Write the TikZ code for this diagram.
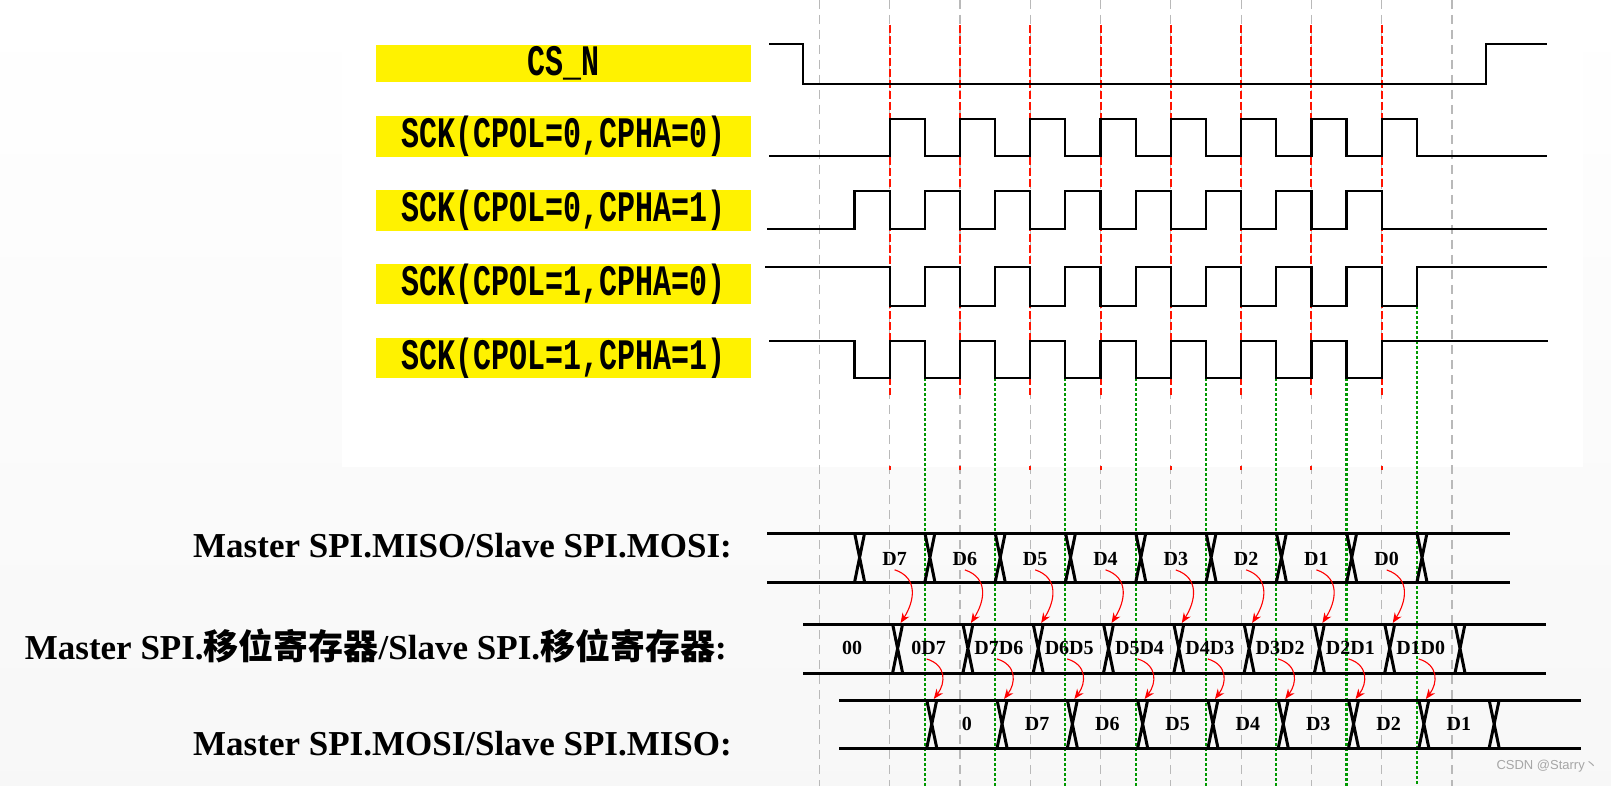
\documentclass[tikz,border=0pt]{standalone}
\usepackage{fontspec}
\usepackage{graphicx}
\setmainfont{Liberation Serif}
\newfontfamily\cjk{Noto Sans CJK SC}
\newfontfamily\monof{Liberation Mono}
\newfontfamily\sansf{Liberation Sans}
\usetikzlibrary{arrows.meta}
\begin{document}
\begin{tikzpicture}[x=1pt,y=-1pt,line join=miter,
  sig/.style={line width=2.2pt,black},
  dat/.style={line width=3pt,black},
  graydash/.style={gray!55,line width=1.2pt,dash pattern=on 9pt off 6pt},
  reddash/.style={red!85!orange,line width=2pt,dash pattern=on 8pt off 3pt},
  greendot/.style={green!60!black,line width=2.2pt,dash pattern=on 2.5pt off 2.5pt},
  ylab/.style={fill=yellow,minimum width=375pt,minimum height=37pt,inner sep=0pt,font=\monof\bfseries\fontsize{30}{30}\selectfont},
  mlab/.style={anchor=east,font=\bfseries\fontsize{35}{35}\selectfont,inner sep=0pt},
  dlab/.style={font=\bfseries\fontsize{20}{20}\selectfont,inner sep=0pt},
  rarr/.style={red,line width=1.1pt,-{Stealth[length=10pt,width=8pt]}}]
\useasboundingbox (0,0) rectangle (1611,786);
\shade[top color=white,bottom color=gray!6] (0,0) rectangle (1611,786);
\fill[white] (342,0) rectangle (1583,467);
\def\h{35.15}
% gray dashed grid
\foreach \k in {0,...,9}{\draw[graydash] ({819.3+70.3*\k},0) -- ({819.3+70.3*\k},786);}
% red dashed
\foreach \k in {1,...,8}{\draw[reddash] ({819.3+70.3*\k},25) -- ({819.3+70.3*\k},395);
  \draw[reddash] ({819.3+70.3*\k},466) -- ({819.3+70.3*\k},470);}
% green dotted
\foreach \k in {1,...,7}{\draw[greendot] ({819.3+70.3*\k+\h},378) -- ({819.3+70.3*\k+\h},786);}
\draw[greendot] ({819.3+70.3*8+\h},306) -- ({819.3+70.3*8+\h},786);
% labels
\node[ylab] (lcs) at (563.5,63.5) {\scalebox{1}[1.45]{CS\_N}};
\node[ylab] (l00) at (563.5,136.5) {\scalebox{1}[1.45]{SCK(CPOL=0,CPHA=0)}};
\node[ylab] (l01) at (563.5,210.5) {\scalebox{1}[1.45]{SCK(CPOL=0,CPHA=1)}};
\node[ylab] (l10) at (563.5,284) {\scalebox{1}[1.45]{SCK(CPOL=1,CPHA=0)}};
\node[ylab] (l11) at (563.5,358) {\scalebox{1}[1.45]{SCK(CPOL=1,CPHA=1)}};
% CS_N
\draw[sig] (769,44) -| (803,84) -- (1486,84) |- (1547,44);
% clocks
\draw[sig] (769,156) foreach \k in {1,...,8}{ -- ({819.3+70.3*\k},156) -- ({819.3+70.3*\k},119) -- ({819.3+70.3*\k+\h},119) -- ({819.3+70.3*\k+\h},156)} -- (1547,156);
\draw[sig] (767,229) foreach \k in {1,...,8}{ -- ({819.3+70.3*\k-\h},229) -- ({819.3+70.3*\k-\h},191) -- ({819.3+70.3*\k},191) -- ({819.3+70.3*\k},229)} -- (1547,229);
\draw[sig] (765,267) foreach \k in {1,...,8}{ -- ({819.3+70.3*\k},267) -- ({819.3+70.3*\k},306) -- ({819.3+70.3*\k+\h},306) -- ({819.3+70.3*\k+\h},267)} -- (1547,267);
\draw[sig] (769,341) foreach \k in {1,...,8}{ -- ({819.3+70.3*\k-\h},341) -- ({819.3+70.3*\k-\h},378) -- ({819.3+70.3*\k},378) -- ({819.3+70.3*\k},341)} -- (1548,341);
% row titles
\node[mlab] (ta) at (732,546) {Master SPI.MISO/Slave SPI.MOSI:};
\node[mlab] (tb) at (727,646) {Master SPI.{\cjk 移位寄存器}/Slave SPI.{\cjk 移位寄存器}:};
\node[mlab] (tc) at (732,744) {Master SPI.MOSI/Slave SPI.MISO:};
% data row lines
\draw[dat] (767,533) -- (1510,533); \draw[dat] (767,582) -- (1510,582);
\draw[dat] (803,624) -- (1546,624); \draw[dat] (803,673) -- (1546,673);
\draw[dat] (839,700) -- (1581,700); \draw[dat] (839,748) -- (1581,748);
\foreach \k in {1,...,9}{
  \pgfmathsetmacro\ca{819.3+70.3*\k-30}
  \pgfmathsetmacro\cb{819.3+70.3*\k+8}
  \pgfmathsetmacro\cc{819.3+70.3*\k+\h+7}
  \draw[dat] (\ca-5,533) -- (\ca+5,582) (\ca+5,533) -- (\ca-5,582);
  \draw[dat] (\cb-5,624) -- (\cb+5,673) (\cb+5,624) -- (\cb-5,673);
  \draw[dat] (\cc-5,700) -- (\cc+5,748) (\cc+5,700) -- (\cc-5,748);
  \coordinate (xb\k) at (\cb+3,623);
  \coordinate (xc\k) at (\cc+2,699);
}
\foreach \k/\t in {1/D7,2/D6,3/D5,4/D4,5/D3,6/D2,7/D1,8/D0}{
  \node[dlab] (la\k) at ({819.3+70.3*\k-30+35},559) {\t};}
\node[dlab] (lb0) at (852,648) {00};
\foreach \k/\t in {1/0D7,2/D7D6,3/D6D5,4/D5D4,5/D4D3,6/D3D2,7/D2D1,8/D1D0}{
  \node[dlab] (lb\k) at ({819.3+70.3*\k+8+31},648) {\t};}
\foreach \k/\t in {1/0,2/D7,3/D6,4/D5,5/D4,6/D3,7/D2,8/D1}{
  \node[dlab] (lc\k) at ({819.3+70.3*\k+\h+7+35},724) {\t};}
% arrows
\foreach \k in {1,...,8}{
  \draw[rarr] ([yshift=-4pt]la\k.south) .. controls +(24,8) and +(14,-22) .. (xb\k);
  \draw[rarr] ([xshift=-2pt,yshift=-4pt]lb\k.south) .. controls +(20,6) and +(12,-16) .. (xc\k);
}
\node[font=\sansf\fontsize{13}{13}\selectfont,text=gray!70,anchor=east,inner sep=0pt] (wm) at (1598,766) {CSDN @Starry{\cjk 丶}};
\end{tikzpicture}
\end{document}
